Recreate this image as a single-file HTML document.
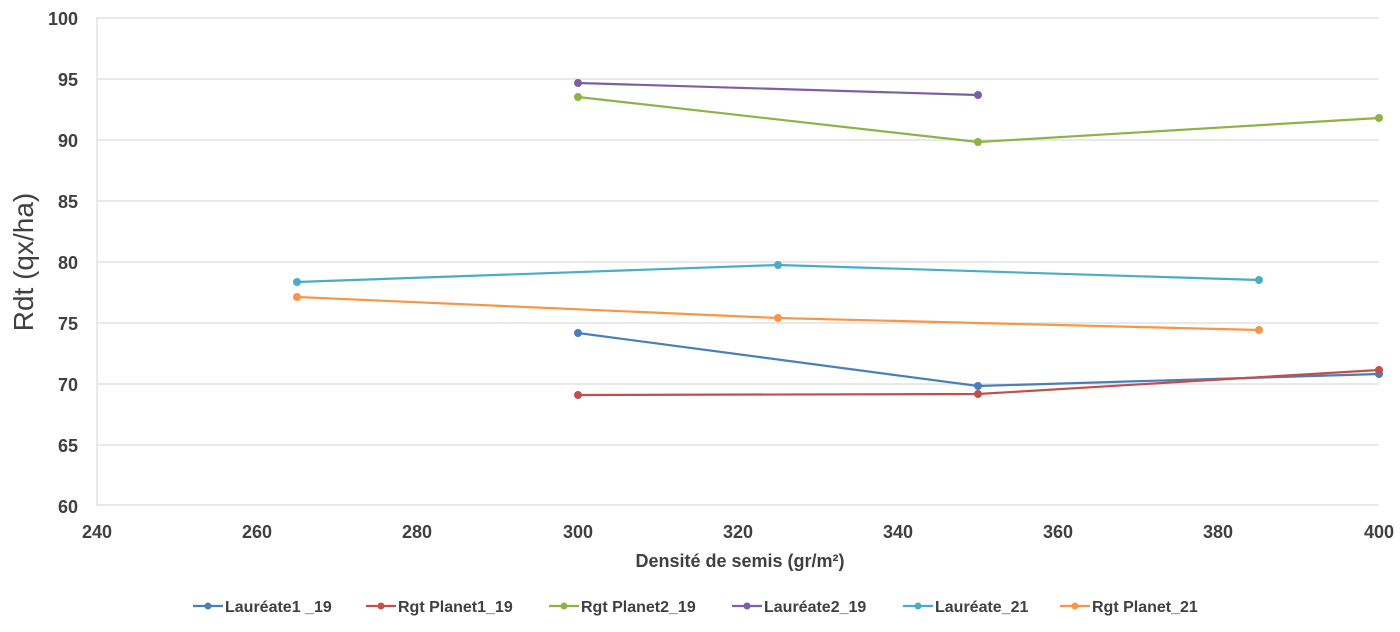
<!DOCTYPE html>
<html><head><meta charset="utf-8"><style>
html,body{margin:0;padding:0;background:#fff;}
svg{display:block;font-family:"Liberation Sans",sans-serif;}
.t{fill:#404040;font-size:18px;font-weight:bold;}
.l{fill:#404040;font-size:16px;font-weight:bold;}
</style></head><body>
<svg width="1400" height="632" viewBox="0 0 1400 632">
<g stroke="#e2e2e2" stroke-width="1.5">
<line x1="97" y1="18" x2="1379" y2="18"/>
<line x1="97" y1="79" x2="1379" y2="79"/>
<line x1="97" y1="140" x2="1379" y2="140"/>
<line x1="97" y1="201" x2="1379" y2="201"/>
<line x1="97" y1="262" x2="1379" y2="262"/>
<line x1="97" y1="323" x2="1379" y2="323"/>
<line x1="97" y1="384" x2="1379" y2="384"/>
<line x1="97" y1="445" x2="1379" y2="445"/>
<line x1="97" y1="505" x2="1379" y2="505"/>
<line x1="97" y1="17" x2="97" y2="506"/>
</g>
<g class="t" text-anchor="end">
<text x="78" y="25">100</text><text x="78" y="86">95</text><text x="78" y="147">90</text>
<text x="78" y="208">85</text><text x="78" y="269">80</text><text x="78" y="330">75</text>
<text x="78" y="391">70</text><text x="78" y="452">65</text><text x="78" y="513">60</text>
</g>
<g class="t" text-anchor="middle">
<text x="97" y="538">240</text><text x="257" y="538">260</text><text x="417" y="538">280</text>
<text x="578" y="538">300</text><text x="738" y="538">320</text><text x="898" y="538">340</text>
<text x="1058" y="538">360</text><text x="1218" y="538">380</text><text x="1379" y="538">400</text>
</g>
<text x="740" y="567" text-anchor="middle" fill="#404040" font-size="18" font-weight="bold">Densité de semis (gr/m²)</text>
<text transform="translate(33,262) rotate(-90)" text-anchor="middle" fill="#404040" font-size="28">Rdt (qx/ha)</text>
<g fill="none" stroke-width="2.2">
<polyline stroke="#4a7ebb" points="578,333 978,386 1379,374"/>
<polyline stroke="#c0504d" points="578,395 978,394 1379,370"/>
<polyline stroke="#8db344" points="578,97 978,142 1379,118"/>
<polyline stroke="#7d5fa6" points="578,83 978,95"/>
<polyline stroke="#4aacc6" points="297,282 778,265 1259,280"/>
<polyline stroke="#f79646" points="297,297 778,318 1259,330"/>
</g>
<g>
<g fill="#4a7ebb"><circle cx="578" cy="333" r="4"/><circle cx="978" cy="386" r="4"/><circle cx="1379" cy="374" r="4"/></g>
<g fill="#c0504d"><circle cx="578" cy="395" r="4"/><circle cx="978" cy="394" r="4"/><circle cx="1379" cy="370" r="4"/></g>
<g fill="#8db344"><circle cx="578" cy="97" r="4"/><circle cx="978" cy="142" r="4"/><circle cx="1379" cy="118" r="4"/></g>
<g fill="#7d5fa6"><circle cx="578" cy="83" r="4"/><circle cx="978" cy="95" r="4"/></g>
<g fill="#4aacc6"><circle cx="297" cy="282" r="4"/><circle cx="778" cy="265" r="4"/><circle cx="1259" cy="280" r="4"/></g>
<g fill="#f79646"><circle cx="297" cy="297" r="4"/><circle cx="778" cy="318" r="4"/><circle cx="1259" cy="330" r="4"/></g>
</g>
<g stroke-width="2.2">
<line x1="193" y1="606" x2="223" y2="606" stroke="#4a7ebb"/><circle cx="208" cy="606" r="3.5" fill="#4a7ebb"/>
<line x1="366" y1="606" x2="396" y2="606" stroke="#c0504d"/><circle cx="381" cy="606" r="3.5" fill="#c0504d"/>
<line x1="549" y1="606" x2="579" y2="606" stroke="#8db344"/><circle cx="564" cy="606" r="3.5" fill="#8db344"/>
<line x1="732" y1="606" x2="762" y2="606" stroke="#7d5fa6"/><circle cx="747" cy="606" r="3.5" fill="#7d5fa6"/>
<line x1="903" y1="606" x2="933" y2="606" stroke="#4aacc6"/><circle cx="918" cy="606" r="3.5" fill="#4aacc6"/>
<line x1="1060" y1="606" x2="1090" y2="606" stroke="#f79646"/><circle cx="1075" cy="606" r="3.5" fill="#f79646"/>
</g>
<g class="l">
<text x="225" y="612">Lauréate1 _19</text>
<text x="398" y="612">Rgt Planet1_19</text>
<text x="581" y="612">Rgt Planet2_19</text>
<text x="764" y="612">Lauréate2_19</text>
<text x="935" y="612">Lauréate_21</text>
<text x="1092" y="612">Rgt Planet_21</text>
</g>
</svg>
</body></html>
